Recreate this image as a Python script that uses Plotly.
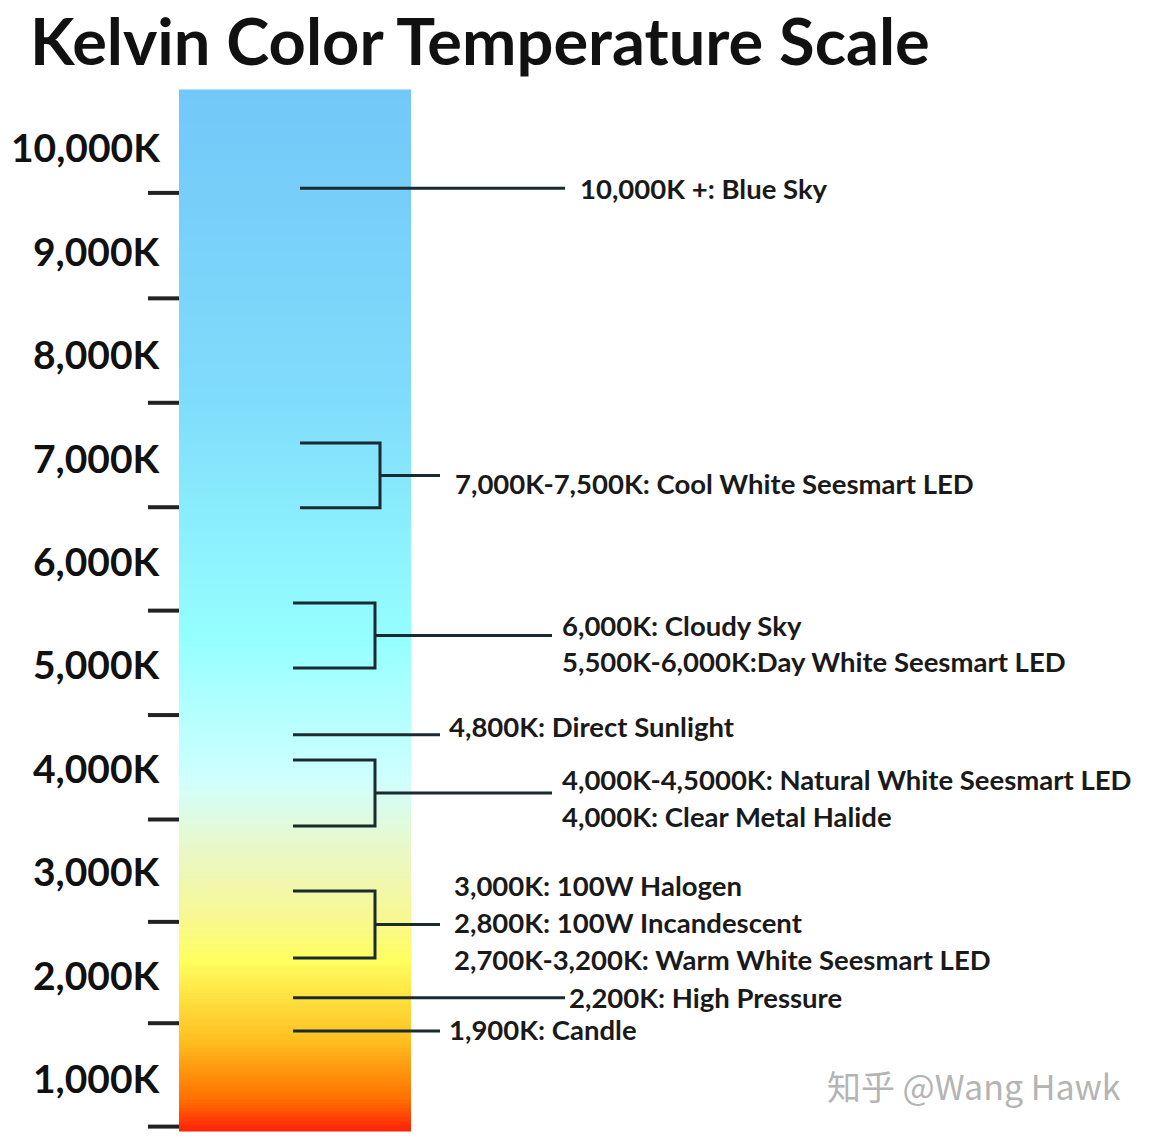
import numpy as np
import plotly.graph_objects as go

# ---------------- data ----------------
axis_values = [1000, 2000, 3000, 4000, 5000, 6000, 7000, 8000, 9000, 10000]
axis_labels = ["1,000K", "2,000K", "3,000K", "4,000K", "5,000K",
               "6,000K", "7,000K", "8,000K", "9,000K", "10,000K"]
tick_marks = [530, 1530, 2510, 3500, 4510, 5520, 6520, 7530, 8540, 9560]

# colour gradient of the bar (kelvin position -> colour)
grad_values = [480, 790, 1370, 2140, 2530, 3200, 3880, 5240, 7560, 10560]
grad_colors = ["#ff2008", "#ff7000", "#ffc020", "#ffff60", "#f8f890",
               "#eaf8c8", "#d0ffff", "#95ffff", "#80dcfc", "#72c8f8"]
bar_bottom, bar_top = 480, 10560

# single-line markers
single_values = [9605, 4320, 1775, 1455]
# bracket markers (top / bottom of each bracket)
bracket_top = [7140, 5595, 4075, 2808]
bracket_bottom = [6515, 4965, 3437, 2160]

# annotation texts and their vertical (kelvin) positions
label_texts = [
    "10,000K +: Blue Sky",
    "7,000K-7,500K: Cool White Seesmart LED",
    "6,000K: Cloudy Sky",
    "5,500K-6,000K:Day White Seesmart LED",
    "4,800K: Direct Sunlight",
    "4,000K-4,5000K: Natural White Seesmart LED",
    "4,000K: Clear Metal Halide",
    "3,000K: 100W Halogen",
    "2,800K: 100W Incandescent",
    "2,700K-3,200K: Warm White Seesmart LED",
    "2,200K: High Pressure",
    "1,900K: Candle",
]
label_values = [9600, 6750, 5375, 5025, 4400, 3885, 3525, 2860, 2500, 2143, 1778, 1466]

# ---------------- layout helpers (positions / styles) ----------------
W, H = 1150, 1138
BAR_X0, BAR_X1 = 179, 411
single_x = [(300, 565), (293, 440), (293, 565), (293, 440)]
bracket_x = [(300, 380, 440), (293, 375, 552), (293, 375, 552), (293, 375, 440)]
label_x = [578, 453, 560, 560, 447, 560, 560, 452, 452, 452, 567, 447]
LINE_COLOR = "#1b2a30"
FONT = "Lato"

fig = go.Figure()

# gradient bar as a heatmap with a custom colourscale
n = 400
edges = np.linspace(bar_bottom, bar_top, n + 1)
centers = (edges[:-1] + edges[1:]) / 2
zmin, zmax = grad_values[0], grad_values[-1]
colorscale = [[(v - zmin) / (zmax - zmin), c] for v, c in zip(grad_values, grad_colors)]
fig.add_trace(go.Heatmap(
    x=[BAR_X0, BAR_X1], y=edges, z=centers.reshape(-1, 1),
    colorscale=colorscale, zmin=zmin, zmax=zmax, showscale=False,
    hoverinfo="skip",
))

# tick dashes on the left of the bar
for t in tick_marks:
    fig.add_trace(go.Scatter(x=[148, BAR_X0], y=[t, t], mode="lines",
                             line=dict(color="#222222", width=4), hoverinfo="skip"))

# single markers
for v, (x0, x1) in zip(single_values, single_x):
    fig.add_trace(go.Scatter(x=[x0, x1], y=[v, v], mode="lines",
                             line=dict(color=LINE_COLOR, width=3), hoverinfo="skip"))

# brackets
for top, bot, (x0, xv, x1) in zip(bracket_top, bracket_bottom, bracket_x):
    mid = (top + bot) / 2
    fig.add_trace(go.Scatter(x=[x0, xv, xv, x0], y=[top, top, bot, bot], mode="lines",
                             line=dict(color=LINE_COLOR, width=3), hoverinfo="skip"))
    fig.add_trace(go.Scatter(x=[xv, x1], y=[mid, mid], mode="lines",
                             line=dict(color=LINE_COLOR, width=3), hoverinfo="skip"))

annotations = []
# axis labels
for v, t in zip(axis_values, axis_labels):
    annotations.append(dict(x=163, y=v, text=t, xanchor="right", yanchor="middle",
                            showarrow=False, font=dict(family=FONT, size=39, color="#111111", weight="bold")))
# marker labels
for t, v, x in zip(label_texts, label_values, label_x):
    annotations.append(dict(x=x, y=v, text=t, xanchor="left", yanchor="middle",
                            showarrow=False, font=dict(family=FONT, size=27.5, color="#1a1a1a", weight="bold")))
# watermark
annotations.append(dict(x=974, y=1 - 1085 / H, text="知乎 @Wang Hawk",
                        xanchor="center", yanchor="middle", showarrow=False, yref="paper",
                        font=dict(family="Noto Sans CJK SC", size=34, color="#b4b4b4")))

# pixel mapping of the value axis (page pixels -> kelvin)
px_per_k = 0.1034
y_hi = 1000 + 1078 / px_per_k
y_lo = 1000 - (H - 1078) / px_per_k

fig.update_layout(
    width=W, height=H,
    margin=dict(l=0, r=0, t=0, b=0),
    paper_bgcolor="white", plot_bgcolor="white",
    showlegend=False,
    xaxis=dict(range=[0, W], visible=False, fixedrange=True),
    yaxis=dict(range=[y_lo, y_hi], visible=False, fixedrange=True),
    title=dict(text="Kelvin Color Temperature Scale", x=30 / W, xanchor="left",
               y=1 - 42 / H, yanchor="middle",
               font=dict(family=FONT, size=65, color="#111111", weight="bold")),
    annotations=annotations,
)

fig.write_html("out.html", config={"displayModeBar": False},
               post_script="document.body.style.margin='0px';")
